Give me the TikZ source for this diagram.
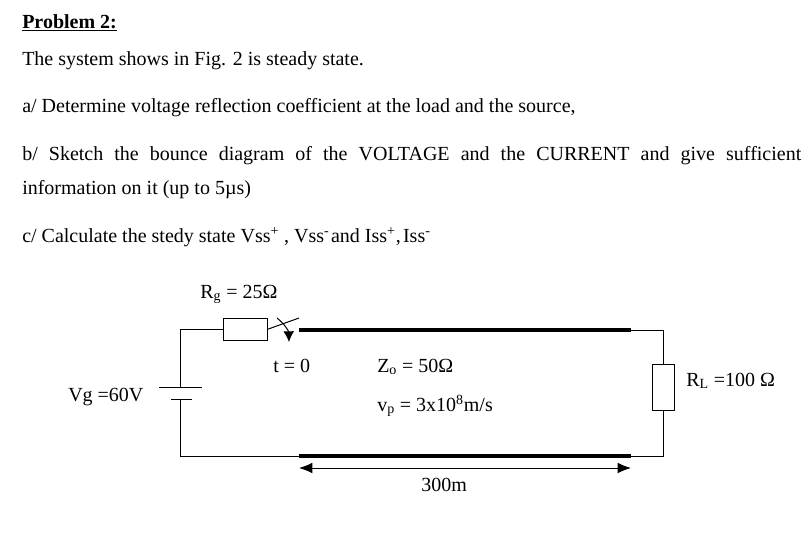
\documentclass[tikz,border=0pt]{standalone}
\usepackage{fontspec}
\setmainfont{Liberation Serif}
\usetikzlibrary{arrows.meta}
\begin{document}
\begin{tikzpicture}[
          x=0.75pt, y=-0.75pt,
          txt/.style={anchor=base west, inner sep=0pt, font=\fontsize{15}{17}\selectfont},
          res/.style={draw, line width=0.75pt, minimum width=#1, inner sep=0pt, outer sep=0pt},
          wire/.style={draw, line width=0.75pt},
          tline/.style={draw, line width=3.6pt},
          dim/.style={line width=0.75pt, {Latex[length=10pt,width=8pt]}-{Latex[length=10pt,width=8pt]}}
        ]
          \useasboundingbox (0,0) rectangle (809,543);

          \node (title) at (22, 28)  [txt] {\underline{\textbf{Problem 2:}}};
          \node (intro) at (22, 65)  [txt] {The system shows in Fig. 2 is steady state.};
          \node (parta) at (22, 112) [txt] {a/ Determine voltage reflection coefficient at the load and the source,};
          \node (partb) at (22, 160) [txt] {\makebox[584.25pt][s]{b/ Sketch the bounce diagram of the VOLTAGE and the CURRENT and give sufficient}};
          \node (partbb) at (22, 194) [txt] {information on it (up to 5µs)};
          \node (partc) at (22, 242) [txt] {c/ Calculate the stedy state Vss\textsuperscript{+} , Vss\textsuperscript{-}\hspace{-2.5pt} and Iss\textsuperscript{+}, \hspace{-2pt}Iss\textsuperscript{-}};

          \node (rg) at (245, 329.5) [res=33pt, minimum height=17pt] {};
          \node (rl) at (663.5, 387) [res=17pt, minimum height=34.5pt] {};

          \coordinate (batt) at (180.5, 387);
          \coordinate (batb) at (180.5, 399);
          \coordinate (swa) at (299, 318);
          \coordinate (tl1) at (299, 330);
          \coordinate (tr1) at (631, 330);
          \coordinate (bl1) at (299, 456);
          \coordinate (br1) at (631, 456);
          \coordinate (corn) at (180.5, 456);
          \coordinate (dl) at (299, 468);
          \coordinate (dr) at (631, 468);
          \coordinate (arca) at (277, 318);
          \coordinate (arcb) at (289, 342);

          % battery
          \draw [wire] (159, 387) -- (202, 387);
          \draw [wire] (171, 399) -- (192, 399);

          \draw [wire] (rg.west) -| (batt);
          \draw [wire] (batb) -- (corn) -- (bl1);
          \draw [wire] (rg.east) -- (swa);
          \draw [wire] (tr1) -| (rl.north);
          \draw [wire] (br1) -| (rl.south);
          \draw [tline] (tl1) -- (tr1);
          \draw [tline] (bl1) -- (br1);
          \draw [dim] (dl) -- (dr);
          \draw [line width=0.75pt, -{Latex[length=8pt,width=8pt]}] (arca) to [bend left=25] (arcb);

          \node (lrg) at (200, 298) [txt] {R\textsubscript{g} = 25Ω};
          \node (lt) at (273, 372)  [txt] {t = 0};
          \node (lz) at (377, 372)  [txt] {Z\textsubscript{o} = 50Ω};
          \node (lv) at (377, 411)  [txt] {v\textsubscript{p} = 3x10\textsuperscript{8}m/s};
          \node (lvg) at (68, 401)  [txt] {Vg =60V};
          \node (lrl) at (686, 386) [txt] {R\textsubscript{L} =100 Ω};
          \node (ld) at (421, 491)  [txt] {300m};
        \end{tikzpicture}
\end{document}
